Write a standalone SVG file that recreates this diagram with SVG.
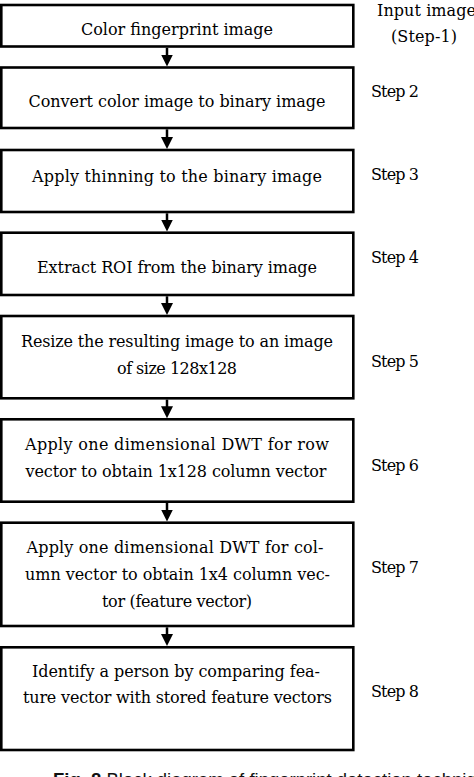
<svg xmlns="http://www.w3.org/2000/svg" width="474" height="777" viewBox="0 0 474 777">
<style>
.box{fill:#fff;stroke:#000;stroke-width:2.6}
.t{font-family:"DejaVu Serif","Liberation Serif",serif;font-size:16px;fill:#000;text-anchor:middle}
.s{font-family:"DejaVu Serif","Liberation Serif",serif;font-size:16px;fill:#000}
.cap{font-family:"Liberation Sans",Arial,sans-serif;font-size:18.5px;fill:#111}
.conn line{stroke:#000;stroke-width:2.5;marker-end:url(#ah)}
</style>
<defs>
<marker id="ah" viewBox="0 0 12 12" refX="6" refY="6" markerWidth="12" markerHeight="12" markerUnits="userSpaceOnUse" orient="auto">
<path d="M0,0 L12,6 L0,12 z" fill="#000"/>
</marker>
</defs>
<rect width="474" height="777" fill="#fff"/>
<g id="connectors" class="conn">
<line x1="167" y1="47.8" x2="167" y2="60.5"/>
<line x1="167" y1="129.3" x2="167" y2="143"/>
<line x1="167" y1="213.3" x2="167" y2="225.5"/>
<line x1="167" y1="296.3" x2="167" y2="309"/>
<line x1="167" y1="399.6" x2="167" y2="412.3"/>
<line x1="167" y1="503" x2="167" y2="515.5"/>
<line x1="167" y1="627.3" x2="167" y2="640"/>
</g>
<g id="step1">
<rect class="box" x="1.3" y="5" width="352" height="41.5"/>
<text class="t" x="177" y="35" textLength="192">Color fingerprint image</text>
</g>
<g id="step2">
<rect class="box" x="1.3" y="67.5" width="352" height="60.5"/>
<text class="t" x="177" y="107.3" textLength="297">Convert color image to binary image</text>
</g>
<g id="step3">
<rect class="box" x="1.3" y="150" width="352" height="62"/>
<text class="t" x="177" y="181.7" textLength="290">Apply thinning to the binary image</text>
</g>
<g id="step4">
<rect class="box" x="1.3" y="232.7" width="352" height="62.3"/>
<text class="t" x="177" y="273.3" textLength="280">Extract ROI from the binary image</text>
</g>
<g id="step5">
<rect class="box" x="1.3" y="316" width="352" height="82.3"/>
<text class="t" x="177" y="346.7" textLength="312">Resize the resulting image to an image</text>
<text class="t" x="177" y="374" textLength="120">of size 128x128</text>
</g>
<g id="step6">
<rect class="box" x="1.3" y="419.3" width="352" height="82.4"/>
<text class="t" x="177" y="450" textLength="304">Apply one dimensional DWT for row</text>
<text class="t" x="176" y="476.7" textLength="301">vector to obtain 1x128 column vector</text>
</g>
<g id="step7">
<rect class="box" x="1.3" y="522.7" width="352" height="103.3"/>
<text class="t" x="175" y="553.3" textLength="297">Apply one dimensional DWT for col-</text>
<text class="t" x="177.5" y="580" textLength="305">umn vector to obtain 1x4 column vec-</text>
<text class="t" x="177" y="606.7" textLength="150">tor (feature vector)</text>
</g>
<g id="step8">
<rect class="box" x="1.3" y="647.3" width="352" height="102.7"/>
<text class="t" x="176" y="677.3" textLength="288">Identify a person by comparing fea-</text>
<text class="t" x="177.5" y="703.3" textLength="309">ture vector with stored feature vectors</text>
</g>
<g id="labels">
<text class="s" x="377" y="16" textLength="99">Input image</text>
<text class="s" x="391" y="41.5" textLength="66">(Step-1)</text>
<text class="s" x="371" y="96.5" textLength="48">Step 2</text>
<text class="s" x="371" y="180" textLength="48">Step 3</text>
<text class="s" x="371" y="263.3" textLength="48">Step 4</text>
<text class="s" x="371" y="366.7" textLength="48">Step 5</text>
<text class="s" x="371" y="470.7" textLength="48">Step 6</text>
<text class="s" x="371" y="573.3" textLength="48">Step 7</text>
<text class="s" x="371" y="697.3" textLength="48">Step 8</text>
</g>
<text class="cap" x="53" y="786"><tspan font-weight="bold">Fig. 8</tspan> Block diagram of fingerprint detection technique</text>
</svg>
